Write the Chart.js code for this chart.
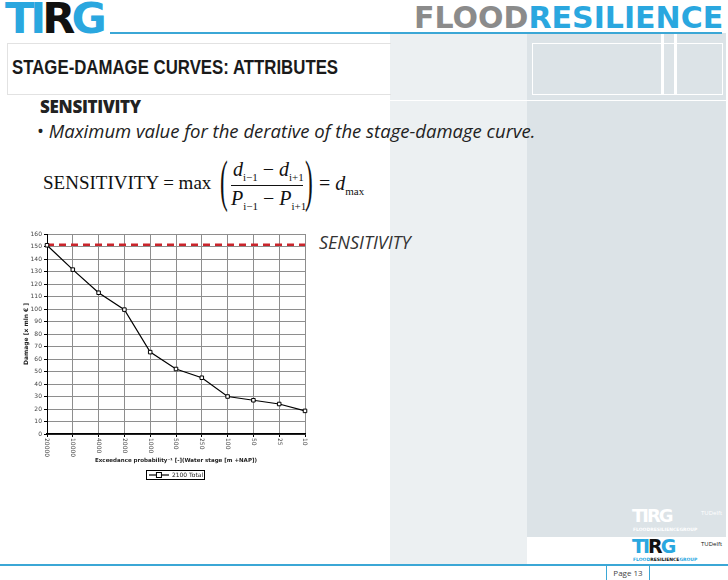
<!DOCTYPE html>
<html>
<head>
<meta charset="utf-8">
<script src="https://cdn.jsdelivr.net/npm/chart.js@4/dist/chart.umd.min.js"></script>
<style>
  html, body { margin: 0; padding: 0; }
  body { width: 728px; height: 580px; position: relative; overflow: hidden; background: #fff; font-family: "Open Sans", sans-serif; }
  .abs { position: absolute; white-space: nowrap; }
  #panelLight { left: 390px; top: 33px; width: 137px; height: 532px; background: #ecf0f2; }
  #panelDark { left: 527px; top: 33px; width: 199px; height: 504px; background: #dce3e7; }
  #topBox { left: 532px; top: 43px; width: 189px; height: 50px; border: 1px solid #fff; }
  #vl1 { left: 661px; top: 33px; width: 3px; height: 61px; background: #fff; }
  #vl2 { left: 674px; top: 33px; width: 3px; height: 61px; background: #fff; }
  #hl { left: 390px; top: 100px; width: 338px; height: 1px; background: #fff; }
  #titleBox { left: 7px; top: 43px; width: 383px; height: 50px; border: 1px solid #e2e2e2; border-right: none; }
  #blueTop { left: 110px; top: 32px; width: 612px; height: 2px; background: #3ba7d6; }
  #blueBottom { left: 0; top: 564px; width: 728px; height: 2px; background: #3ba7d6; }
  #pageBox { left: 606px; top: 566px; width: 42px; height: 14px; border-left: 1px solid #3ba7d6; border-right: 1px solid #3ba7d6; font-size: 8px; color: #444; text-align: center; line-height: 14px; }
  #chartWrap { left: 14px; top: 226px; width: 310px; height: 262px; }
  .serif { font-family: "Liberation Serif", "Times New Roman", serif; color: #111; }
  .logo { font-family: "DejaVu Sans"; font-weight: bold; }
</style>
</head>
<body>
<div class="abs" id="panelLight"></div>
<div class="abs" id="panelDark"></div>
<div class="abs" id="topBox"></div>
<div class="abs" id="vl1"></div>
<div class="abs" id="vl2"></div>
<div class="abs" id="hl"></div>
<div class="abs" id="titleBox"></div>
<div class="abs" id="blueTop"></div>
<div class="abs" id="blueBottom"></div>

<div class="abs logo" style="left:5px;top:0px;font-size:43px;line-height:36px;letter-spacing:-4px;">
  <span style="color:#2aa7df">TI</span><span style="color:#111">R</span><span style="color:#2aa7df">G</span>
</div>
<div class="abs logo" style="left:414px;top:0px;font-size:30px;line-height:36px;">
  <span style="color:#8b8b8b">FLOOD</span><span style="color:#2aa7df">RESILIENCE</span>
</div>

<div class="abs" style="left:12px;top:55px;font-family:'Liberation Sans';font-weight:bold;font-size:21px;color:#1a1a1a;transform:scaleX(0.8);transform-origin:left top;">STAGE-DAMAGE CURVES: ATTRIBUTES</div>

<div class="abs" style="left:40px;top:95px;font-weight:800;font-size:17px;color:#222;letter-spacing:-0.3px;">SENSITIVITY</div>
<div class="abs" style="left:37px;top:118px;font-size:18.5px;color:#222;">• <i>Maximum value for the derative of the stage-damage curve.</i></div>

<div class="abs serif" style="left:43px;top:172px;font-size:19px;">SENSITIVITY = max</div>
<div class="abs serif" style="left:220px;top:147px;font-size:58px;font-weight:100;transform:scaleX(0.4);transform-origin:left top;">(</div>
<div class="abs serif" style="left:233px;top:158px;font-size:20px;"><i>d</i><sub style="font-size:11px">i−1</sub> − <i>d</i><sub style="font-size:11px">i+1</sub></div>
<div class="abs" style="left:231px;top:185px;width:72px;height:1px;background:#111;"></div>
<div class="abs serif" style="left:231px;top:187px;font-size:20px;"><i>P</i><sub style="font-size:11px">i−1</sub> − <i>P</i><sub style="font-size:11px">i+1</sub></div>
<div class="abs serif" style="left:305px;top:147px;font-size:58px;font-weight:100;transform:scaleX(0.4);transform-origin:left top;">)</div>
<div class="abs serif" style="left:319px;top:172px;font-size:20px;">= <i>d</i><sub style="font-size:11px">max</sub></div>

<div class="abs" style="left:319px;top:230px;font-size:18px;color:#333;font-style:italic;">SENSITIVITY</div>

<div class="abs" id="chartWrap"><canvas id="chart" width="310" height="262"></canvas></div>

<div class="abs logo" style="left:632px;top:506px;font-size:18px;line-height:20px;color:#fff;letter-spacing:-2px;">TIRG</div>
<div class="abs logo" style="left:633px;top:527px;font-size:4.5px;line-height:5px;color:#fff;">FLOODRESILIENCEGROUP</div>
<div class="abs" style="left:701px;top:510px;font-size:6px;line-height:7px;color:#fff;">TUDelft</div>
<div class="abs logo" style="left:632px;top:536px;font-size:19px;line-height:20px;letter-spacing:-2px;"><span style="color:#2aa7df">TI</span><span style="color:#111">R</span><span style="color:#2aa7df">G</span></div>
<div class="abs logo" style="left:633px;top:557px;font-size:4.5px;line-height:5px;"><span style="color:#2aa7df">FLOOD</span><span style="color:#111">RESILIENCE</span><span style="color:#2aa7df">GROUP</span></div>
<div class="abs" style="left:701px;top:541px;font-size:6px;line-height:7px;color:#111;">TUDelft</div>
<div class="abs" id="pageBox">Page 13</div>

<script>
const probabilityLabels = ['20000', '10000', '4000', '2000', '1000', '500', '250', '100', '50', '25', '10'];
const damage2100 = [151, 131.5, 113, 99.5, 65.5, 52, 45, 30, 27, 24, 18.5];
const sensitivityLevel = 151.5;
const yTickMax = 160;
const yTickStep = 10;

const sensitivityLine = probabilityLabels.map(() => sensitivityLevel);

// legend symbol: line with a small square in the middle
const legendIcon = document.createElement('canvas');
legendIcon.width = 20;
legendIcon.height = 8;
const ictx = legendIcon.getContext('2d');
ictx.strokeStyle = '#000';
ictx.lineWidth = 1.2;
ictx.beginPath();
ictx.moveTo(0, 4);
ictx.lineTo(20, 4);
ictx.stroke();
ictx.fillStyle = '#fff';
ictx.fillRect(7.5, 1.5, 5, 5);
ictx.lineWidth = 1;
ictx.strokeRect(7.5, 1.5, 5, 5);

const chartExtras = {
    id: 'chartExtras',
    afterLayout(chart) {
        // center legend under the plot area instead of the whole canvas
        const lg = chart.legend;
        const shift = (chart.chartArea.left + chart.chartArea.right) / 2 - (lg.left + lg.right) / 2;
        lg.left += shift;
        lg.right += shift;
    },
    afterDraw(chart) {
        const ctx = chart.ctx;
        const xs = chart.scales.x;
        ctx.save();
        ctx.fillStyle = '#444';
        ctx.font = '6px "DejaVu Sans"';
        ctx.textAlign = 'left';
        ctx.textBaseline = 'middle';
        xs.ticks.forEach((t, i) => {
            const x = xs.getPixelForTick(i);
            ctx.save();
            ctx.translate(x, xs.top + 4);
            ctx.rotate(Math.PI / 2);
            ctx.fillText(probabilityLabels[i], 0, 0);
            ctx.restore();
        });
        const box = chart.legend.legendHitBoxes[0];
        if (box) {
            ctx.strokeStyle = '#000';
            ctx.lineWidth = 1;
            ctx.strokeRect(Math.round(box.left) - 2.5, Math.round(box.top) - 1.5, Math.round(box.width) + 4, Math.round(box.height) + 3);
        }
        ctx.restore();
    }
};

new Chart(document.getElementById('chart'), {
    type: 'line',
    data: {
        labels: probabilityLabels,
        datasets: [
            {
                label: '2100 Total',
                data: damage2100,
                borderColor: '#000',
                borderWidth: 1.2,
                pointStyle: 'rect',
                pointRadius: 2.5,
                pointBackgroundColor: '#fff',
                pointBorderColor: '#000',
                pointBorderWidth: 1,
                tension: 0
            },
            {
                label: 'sensitivity',
                data: sensitivityLine,
                borderColor: '#c9252c',
                borderWidth: 2.5,
                borderDash: [7, 5],
                pointRadius: 0
            }
        ]
    },
    plugins: [chartExtras],
    options: {
        responsive: false,
        animation: false,
        layout: { padding: { top: 8, right: 19, left: 0, bottom: 0 } },
        plugins: {
            tooltip: { enabled: false },
            legend: {
                position: 'bottom',
                labels: {
                    usePointStyle: true,
                    pointStyleWidth: 20,
                    boxHeight: 6,
                    color: '#222',
                    font: { family: 'DejaVu Sans', size: 6 },
                    padding: 6,
                    generateLabels: chart => [{
                        text: chart.data.datasets[0].label,
                        pointStyle: legendIcon,
                        datasetIndex: 0,
                        fontColor: '#222',
                        lineWidth: 0
                    }]
                }
            }
        },
        scales: {
            x: {
                offset: false,
                afterFit: s => { s.height = 32; },
                grid: { color: '#8e8e8e', lineWidth: 1, tickLength: 3, tickColor: '#000' },
                border: { color: '#000', width: 1.8 },
                ticks: { display: false, autoSkip: false },
                title: {
                    display: true,
                    text: 'Exceedance probability⁻¹ [-](Water stage [m +NAP])',
                    color: '#222',
                    font: { family: 'DejaVu Sans', size: 5.5, weight: 'bold' },
                    padding: { top: 0, bottom: 2 }
                }
            },
            y: {
                min: 0,
                max: yTickMax,
                afterFit: s => { s.width = 33; },
                grid: { color: '#8e8e8e', lineWidth: 1, tickLength: 3, tickColor: '#000' },
                border: { color: '#000', width: 1 },
                ticks: {
                    stepSize: yTickStep,
                    color: '#444',
                    padding: 2,
                    font: { family: 'DejaVu Sans', size: 6 }
                },
                title: {
                    display: true,
                    text: 'Damage [x mln € ]',
                    color: '#222',
                    font: { family: 'DejaVu Sans', size: 6, weight: 'bold' },
                    padding: { top: 9, bottom: 0 }
                }
            }
        }
    }
});
</script>
</body>
</html>
